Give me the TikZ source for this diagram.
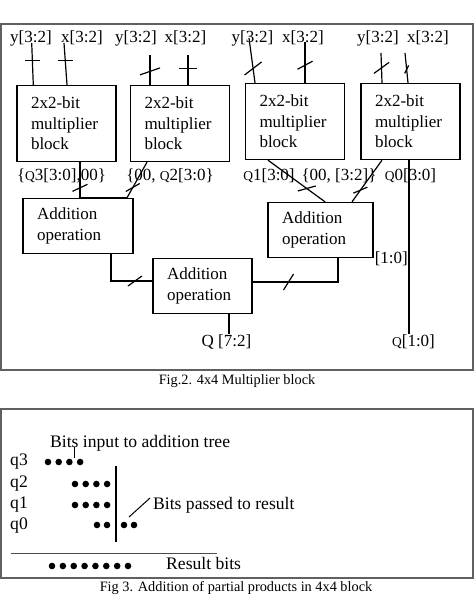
\documentclass[tikz,border=0pt]{standalone}
\usepackage{fontspec}
\setmainfont{Liberation Serif}
\newcommand{\smq}{{\fontsize{13.5}{13.5}\selectfont Q}}

\begin{document}
\begin{tikzpicture}[x=1pt,y=-1pt,
  txt/.style={font=\fontsize{17}{20.5}\selectfont,inner sep=0pt},
  txtb/.style={font=\fontsize{17.6}{21}\selectfont,inner sep=0pt},
  capt/.style={font=\fontsize{14.3}{17}\selectfont,inner sep=0pt,anchor=base},
  mulblk/.style={draw,line width=1.4pt,txt,align=left,text width=71pt,inner xsep=14pt,minimum height=76pt},
  addblk/.style={draw,line width=1.4pt,txt,align=left,inner xsep=14pt,minimum height=55pt},
  wire/.style={line width=1.2pt},
  frm/.style={draw=gray!75!black,line width=1.5pt}]
  \useasboundingbox (0,0) rectangle (474,594);

  % frames
  \draw[frm] (1,24) rectangle (473,370);
  \draw[frm] (1,409) rectangle (473,578);

  % 2x2 multiplier blocks
  \node[mulblk] (m1) at (66.5,123.5) {2x2-bit\\multiplier\\block};
  \node[mulblk] (m2) at (180,123.5) {2x2-bit\\multiplier\\block};
  \node[mulblk] (m3) at (295,121.5) {2x2-bit\\multiplier\\block};
  \node[mulblk] (m4) at (410.5,121.5) {2x2-bit\\multiplier\\block};

  % input labels
  \foreach \nm/\lx/\vr in {y1/31/y,x1/82/x,y2/136/y,x2/185.5/x,y3/252.5/y,x3/303/x,y4/378/y,x4/428/x}
    \node[txt,anchor=base] (\nm) at (\lx,43) {\vr[3:2]};

  % input buses with ticks
  \foreach \nm/\ox/\oy/\blk/\bx/\tp/\tx/\ty in {
      y1/0.7/0/m1/-33.2/0.42/7.5/0,
      x1/-18/0/m1/0.5/0.42/7.5/0,
      y2/14/12/m2/-30/0.55/10/3.5,
      x2/2.5/12/m2/8/0.45/9/0,
      y3/-3.5/-5/m3/-40/0.68/8.5/6.5,
      x3/2/-1/m3/10/0.57/7.5/4,
      y4/3/10/m4/-28.5/0.5/7.5/5.5,
      x4/-23/10/m4/-2.5/0.55/2/4} {
    \draw[wire] ([shift={(\ox,\oy)}]\nm.base) -- coordinate[pos=\tp] (tk) ([xshift=\bx pt]\blk.north);
    \draw[wire] ([shift={(-\tx,\ty)}]tk) -- ([shift={(\tx,-\ty)}]tk);
  }

  % partial product labels
  \node[txt,anchor=base] (o3) at (61.5,180) {\{\smq3[3:0],00\}};
  \node[txt,anchor=base] (o2) at (170,180) {\{00, \smq2[3:0\}};
  \node[txt,anchor=base] (o1) at (269,180) {\smq1[3:0]};
  \node[txt,anchor=base] (o0h) at (339,180) {\{00, [3:2]\}};
  \node[txt,anchor=base] (o0) at (410.5,180) {\smq0[3:0]};

  % addition blocks
  \node[addblk,text width=82pt] (add1) at (78,226) {Addition\\operation};
  \node[addblk,text width=77pt] (add2) at (320.5,230) {Addition\\operation};
  \node[addblk,text width=71pt] (add3) at (202.5,286) {Addition\\operation};

  % buses into the adders
  \draw[wire] ([xshift=13.5pt]m1.south) -- coordinate[pos=0.72] (tk1) ([xshift=2pt]add1.north);
  \draw[wire] ([shift={(-7.5,3.5)}]tk1) -- ([shift={(7.5,-3.5)}]tk1);
  \draw[wire] ([xshift=-33pt]m2.south) -- coordinate[pos=0.71] (tk2) ([xshift=49pt]add1.north);
  \draw[wire] ([shift={(-7,4)}]tk2) -- ([shift={(7,-4)}]tk2);
  \draw[wire] ([xshift=2pt]add1.north) -- ([xshift=49pt]add1.north);
  \draw[wire] ([xshift=-27pt]m3.south) -- coordinate[pos=0.68] (tk3) ([xshift=4.5pt]add2.north);
  \draw[wire] ([shift={(-9,2.5)}]tk3) -- ([shift={(9,-2.5)}]tk3);
  \draw[wire] ([xshift=-28.5pt]m4.south) -- coordinate[pos=0.72] (tk4) ([xshift=31.5pt]add2.north);
  \draw[wire] ([shift={(-7,3)}]tk4) -- ([shift={(7,-3)}]tk4);

  \draw[wire] ([xshift=33pt]add1.south) |- coordinate[pos=0.79] (tk5) ([yshift=5pt]add3.west);
  \draw[wire] ([shift={(-7,5)}]tk5) -- ([shift={(7,-5)}]tk5);
  \draw[wire] ([xshift=17.5pt]add2.south) |- coordinate[pos=0.79] (tk6) ([yshift=4pt]add3.east);
  \draw[wire] ([shift={(-5,8)}]tk6) -- ([shift={(5,-8)}]tk6);

  % outputs
  \node[txt,anchor=base] (q72) at (226.5,346) {Q [7:2]};
  \node[txt,anchor=base east] (b10) at (408,263) {[1:0]};
  \node[txt,anchor=base] (q10) at (413.5,346) {\smq[1:0]};
  \coordinate (a3o) at ([xshift=26.5pt]add3.south);
  \draw[wire] (a3o) -- (a3o |- q72.north);
  \coordinate (m4o) at ([xshift=-1.5pt]m4.south);
  \draw[wire] (m4o) -- (m4o |- q10.north);

  \node[capt] (cap2) at (237,384) {Fig.2. 4x4 Multiplier block};

  % dot diagram of the partial products
  \node[txtb,anchor=base west] (bin) at (50,447) {Bits input to addition tree};
  \draw[line width=1pt] ([xshift=24pt]bin.base west) -- ++(0,11);
  \foreach \q/\yb in {3/465,2/487,1/508,0/529}
    \node[txtb,anchor=base west] (q\q) at (10,\yb) {q\q};
  \foreach \i in {0,...,3} {
    \fill (48+10.7*\i,462) circle (3.3pt);
    \fill (75+10.7*\i,484) circle (3.3pt);
    \fill (75+10.7*\i,505) circle (3.3pt);
  }
  \foreach \xd in {97,107,124,134}
    \fill (\xd,525) circle (3.3pt);
  \draw[line width=1.5pt] (116,466) -- (116,542);
  \node[txtb,anchor=base west] (bpr) at (153,509) {Bits passed to result};
  \draw[line width=1pt] (129,517) -- ([shift={(-3,-11)}]bpr.base west);
  \draw[gray!60!black,line width=0.8pt] (11,553) -- (217,553);
  \foreach \i in {0,...,7}
    \fill (52+10.86*\i,566) circle (3.3pt);
  \node[txtb,anchor=base west] (rb) at (166,569) {Result bits};

  \node[capt] (cap3) at (236,591) {Fig 3. Addition of partial products in 4x4 block};
\end{tikzpicture}
\end{document}
